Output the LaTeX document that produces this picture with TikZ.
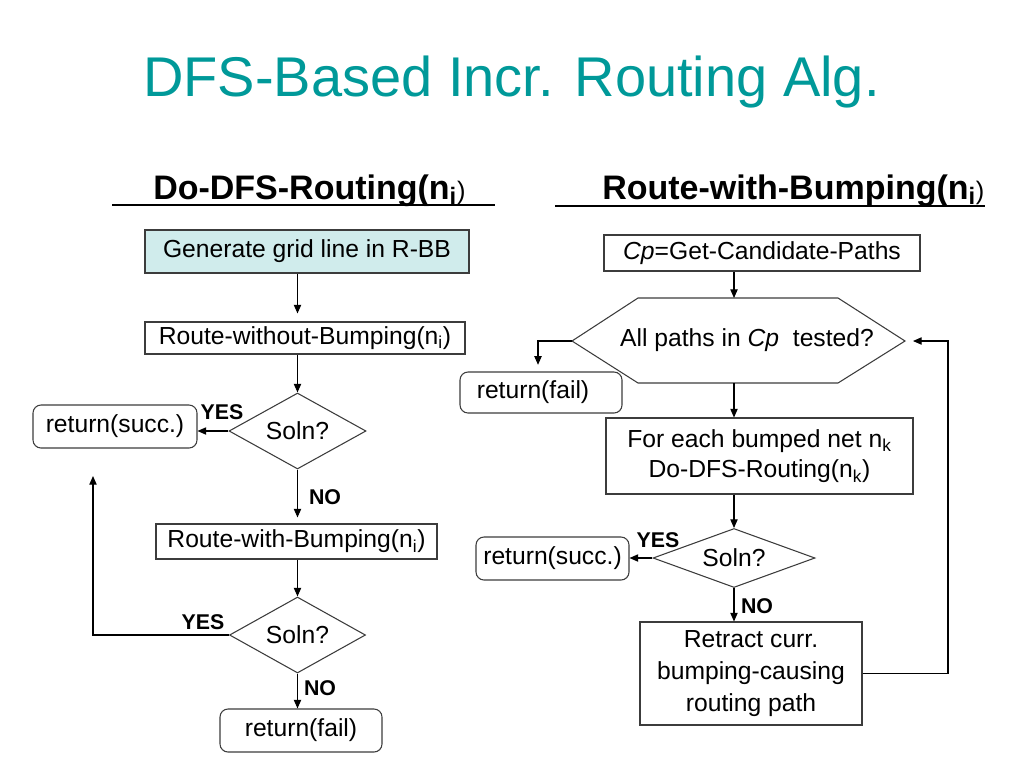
\documentclass[tikz,border=0pt]{standalone}
\usepackage{fontspec}
\setmainfont{Liberation Sans}
\usetikzlibrary{arrows.meta,shapes.geometric}
\definecolor{titlecol}{RGB}{0,153,153}
\definecolor{genfill}{RGB}{208,236,236}
\definecolor{edgecol}{RGB}{60,60,60}
\begin{document}
\begin{tikzpicture}[x=0.75pt,y=-0.75pt,
  every node/.style={font=\fontsize{18.5}{23}\selectfont, inner sep=0pt},
  box/.style={draw=edgecol, line width=0.8pt, align=center},
  rbox/.style={box, rounded corners=6pt},
  dia/.style={diamond, draw=edgecol, line width=0.8pt, inner sep=0pt, aspect=2},
  lab/.style={font=\bfseries\fontsize{16}{18}\selectfont},
  arr/.style={-{Triangle[length=6.5pt,width=5.5pt]}, line width=0.8pt},
  rule/.style={line width=0.8pt},
  headfont/.style={font=\bfseries\fontsize{25.5}{30}\selectfont}]
\useasboundingbox (0,0) rectangle (1024,768);

% title
\node[anchor=base, text=titlecol, font=\fontsize{42}{48}\selectfont] (title) at (511.5,96) {DFS-Based Incr. Routing Alg.};

% ---------- left column ----------
\node[anchor=base west, headfont] (head1) at (153,199) {Do-DFS-Routing(n\textsubscript{i}{\mdseries\fontsize{19}{20}\selectfont)}};
\coordinate (u1a) at (112,205);
\coordinate (u1b) at (495,205);
\draw[rule] (u1a) -- (u1b);

\node[box, fill=genfill, minimum width=243pt, minimum height=32.25pt] (gen) at (307,251.5) {Generate grid line in R-BB};
\node[box, minimum width=240pt, minimum height=24pt] (rwo) at (305,338) {Route-without-Bumping(n\textsubscript{i})};
\node[dia, minimum width=102.75pt, minimum height=57pt] (d1) at (297.5,431) {Soln?};
\node[rbox, minimum width=123pt, minimum height=32.25pt] (succ1) at (115,426.5) {return(succ.)};
\node[lab] (yes1) at (222,412) {YES};
\node[lab] (no1) at (325,497) {NO};
\node[box, minimum width=210.75pt, minimum height=26.25pt] (rwb) at (296.5,541.5) {Route-with-Bumping(n\textsubscript{i})};
\node[dia, minimum width=102pt, minimum height=57pt] (d2) at (297.5,635) {Soln?};
\node[lab] (yes2) at (203,622) {YES};
\node[lab] (no2) at (320,688) {NO};
\node[rbox, minimum width=121.5pt, minimum height=32.25pt] (fail1) at (301,730.5) {return(fail)};
\coordinate (loopc) at (93,635);
\coordinate (loopend) at (93,476);

\draw[arr, shorten >=6pt] (d1.north |- gen.south) -- (d1.north |- rwo.north);
\draw[arr] (d1.north |- rwo.south) -- (d1.north);
\draw[arr] (d1.west) -- (succ1.east |- d1.west);
\draw[arr, shorten >=4.5pt] (d1.south) -- (rwb.north -| d1.south);
\draw[arr] (rwb.south -| d2.north) -- (d2.north);
\draw[arr] (d2.west) -- (loopc) -- (loopend);
\draw[arr] (d2.south) -- (fail1.north -| d2.south);

% ---------- right column ----------
\node[anchor=base west, headfont] (head2) at (602,199) {Route-with-Bumping(n\textsubscript{i}{\mdseries\fontsize{19}{20}\selectfont)}};
\coordinate (u2a) at (555,206);
\coordinate (u2b) at (985,206);
\draw[rule] (u2a) -- (u2b);

\node[box, minimum width=237pt, minimum height=27pt] (cp) at (762,253) {\textit{Cp}=Get-Candidate-Paths};

\coordinate (hexL) at (572,341);
\coordinate (hexTL) at (638,298);
\coordinate (hexTR) at (838,298);
\coordinate (hexR) at (905,341);
\coordinate (hexBR) at (838,383);
\coordinate (hexBL) at (638,383);
\coordinate (hexT) at (734,298);
\coordinate (hexB) at (734,383);
\draw[draw=edgecol, line width=0.8pt] (hexL) -- (hexTL) -- (hexTR) -- (hexR) -- (hexBR) -- (hexBL) -- cycle;
\node (hextxt) at (747,340) {All paths in \textit{Cp}\ \ tested?};

\node[rbox, minimum width=121.5pt, minimum height=30.75pt] (fail2) at (541,392.5) {return(fail)\hspace*{12pt}};
\coordinate (failc) at (538,341);
\draw[arr, shorten >=5pt] (hexL) -- (failc) -- (fail2.north -| failc);

\node[box, minimum width=230.25pt, minimum height=57pt] (each) at (759.5,456) {For each bumped net n\textsubscript{k}\\Do-DFS-Routing(n\textsubscript{k})};
\draw[arr] (cp.south -| hexT) -- (hexT);
\draw[arr] (hexB) -- (each.north -| hexB);

\node[dia, minimum width=121.5pt, minimum height=44.25pt] (d3) at (734,558) {Soln?};
\draw[arr] (each.south -| d3.north) -- (d3.north);
\node[rbox, minimum width=114.75pt, minimum height=32.25pt] (succ2) at (552.5,558.5) {return(succ.)};
\draw[arr] (d3.west) -- (succ2.east |- d3.west);
\node[lab] (yes3) at (658,540) {YES};
\node[lab] (no3) at (757,606) {NO};

\node[box, minimum width=166.5pt, minimum height=77.25pt, font=\fontsize{18.5}{24}\selectfont] (retr) at (751,673.5) {Retract curr.\\bumping-causing\\routing path};
\draw[arr] (d3.south) -- (retr.north -| d3.south);
\coordinate (rc1) at (948,674);
\coordinate (rc2) at (948,341);
\draw[arr, shorten >=6pt] (retr.east) -- (rc1 |- retr.east) -- (rc2) -- (hexR);

\end{tikzpicture}
\end{document}
